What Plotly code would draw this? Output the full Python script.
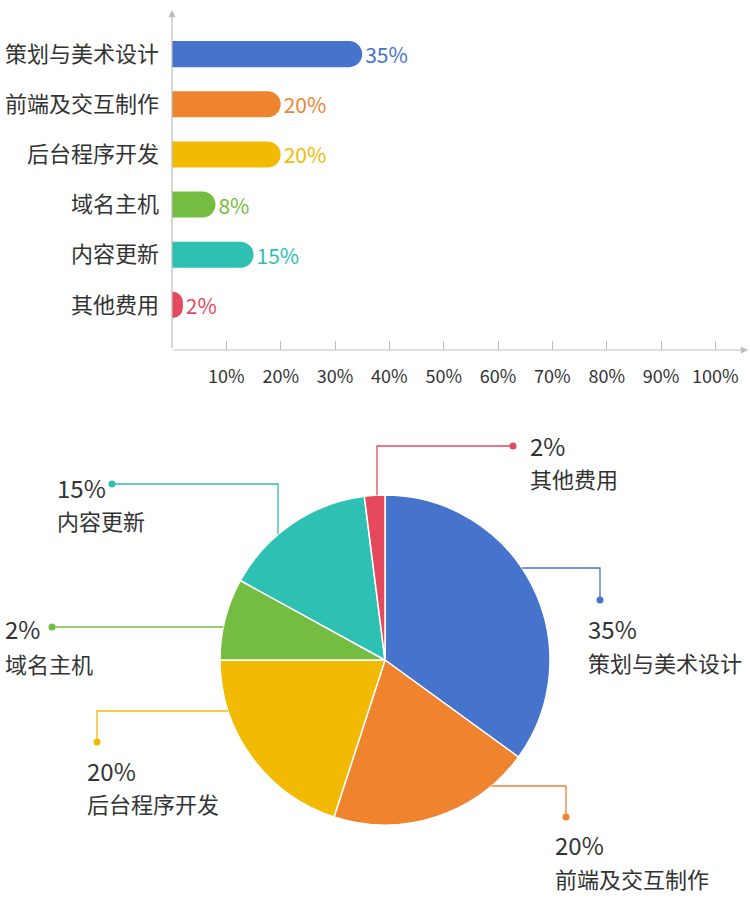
import math
import plotly.graph_objects as go

# data
categories = ["策划与美术设计", "前端及交互制作", "后台程序开发", "域名主机", "内容更新", "其他费用"]
values = [35, 20, 20, 8, 15, 2]
colors = ["#4673CC", "#F0832E", "#F2BA02", "#74BD41", "#2EC0B2", "#E5495D"]
pie_pct_text = ["35%", "20%", "20%", "2%", "15%", "2%"]
tick_vals = [10, 20, 30, 40, 50, 60, 70, 80, 90, 100]
tick_text = [f"{v}%" for v in tick_vals]

W, H = 750, 902
FONT = "Noto Sans CJK SC"
TXT = "#333333"
AXC = "#BDBDBD"


def px(x, y):
    return x / W, 1 - y / H


fig = go.Figure()

# ---- bar chart (top) ----
fig.add_trace(go.Bar(
    x=values[::-1],
    y=categories[::-1],
    orientation="h",
    marker=dict(color=colors[::-1], cornerradius=13, line=dict(width=0)),
    width=0.52,
    text=[f"{v}%" for v in values[::-1]],
    textposition="outside",
    constraintext="none",
    textfont=dict(family=FONT, size=21, color=colors[::-1]),
    cliponaxis=False,
    showlegend=False,
))

fig.update_xaxes(
    domain=[172 / W, 748 / W], range=[0, 106],
    tickvals=tick_vals, ticktext=tick_text,
    ticks="inside", ticklen=9, tickcolor=AXC, tickwidth=1,
    ticklabelstandoff=14,
    tickfont=dict(family=FONT, size=18, color=TXT),
    showgrid=False, zeroline=False, showline=False, fixedrange=True,
)
fig.update_yaxes(
    domain=[1 - 350 / H, 1 - 10 / H], range=[-0.9, 5.88],
    type="category", ticks="", ticklabelstandoff=12,
    tickfont=dict(family=FONT, size=22, color=TXT),
    showgrid=False, zeroline=False, showline=False, fixedrange=True,
)

# axis lines with arrow heads
axis_arrows = [
    dict(x=1, y=0, ax=0, ay=0),   # x axis
    dict(x=0, y=1, ax=0, ay=0),   # y axis
]
for a in axis_arrows:
    fig.add_annotation(
        xref="x domain", yref="y domain", axref="x domain", ayref="y domain",
        x=a["x"], y=a["y"], ax=a["ax"], ay=a["ay"], text="",
        showarrow=True, arrowhead=2, arrowsize=1.2, arrowwidth=1.2, arrowcolor=AXC,
    )

# ---- pie chart (bottom) ----
cx, cy, R = 385, 660, 165
fig.add_trace(go.Pie(
    values=values, labels=categories,
    marker=dict(colors=colors, line=dict(color="white", width=1.5)),
    sort=False, direction="clockwise", rotation=0,
    textinfo="none", showlegend=False,
    domain=dict(x=[(cx - R) / W, (cx + R) / W], y=[1 - (cy + R) / H, 1 - (cy - R) / H]),
))

# leader-line layout per slice (pixels): kind, line level, dot, label left x, label rows
leaders = [
    dict(kind="hv", level=568, dot=(600, 600), lx=586, ly=(628, 662)),
    dict(kind="hv", level=786, dot=(566, 817), lx=553, ly=(844, 878)),
    dict(kind="hv", level=711, dot=(97, 742), lx=85, ly=(770, 803)),
    dict(kind="hv", level=627, dot=(52, 627), lx=3, ly=(628, 663)),
    dict(kind="vh", level=278, dot=(112, 484), lx=55, ly=(487, 520)),
    dict(kind="vh", level=377, dot=(513, 446), lx=528, ly=(446, 478)),
]

for i, L in enumerate(leaders):
    dx_, dy_ = L["dot"]
    if L["kind"] == "hv":
        yl = L["level"]
        side = 1 if dx_ > cx else -1
        sx = cx + side * math.sqrt(R ** 2 - (yl - cy) ** 2)
        pts = [(sx, yl), (dx_, yl), (dx_, dy_)]
    else:
        xl = L["level"]
        sy = cy - math.sqrt(R ** 2 - (xl - cx) ** 2)
        pts = [(xl, sy), (xl, dy_), (dx_, dy_)]
    path = ""
    for j, (x, y) in enumerate(pts):
        px_, py_ = px(x, y)
        path += ("M" if j == 0 else "L") + f"{px_},{py_} "
    fig.add_shape(type="path", path=path, xref="paper", yref="paper",
                  line=dict(color=colors[i], width=1.3))
    ddx, ddy = px(dx_, dy_)
    fig.add_shape(type="circle", xref="paper", yref="paper",
                  xsizemode="pixel", ysizemode="pixel", xanchor=ddx, yanchor=ddy,
                  x0=-3.5, x1=3.5, y0=-3.5, y1=3.5,
                  fillcolor=colors[i], line=dict(width=0))
    tx, ty1 = px(L["lx"], L["ly"][0])
    _, ty2 = px(L["lx"], L["ly"][1])
    fig.add_annotation(xref="paper", yref="paper", x=tx, y=ty1, xanchor="left", yanchor="middle",
                       text=pie_pct_text[i], showarrow=False,
                       font=dict(family=FONT, size=24, color=TXT))
    fig.add_annotation(xref="paper", yref="paper", x=tx, y=ty2, xanchor="left", yanchor="middle",
                       text=categories[i], showarrow=False,
                       font=dict(family=FONT, size=22, color=TXT))

fig.update_layout(
    width=W, height=H,
    margin=dict(l=0, r=0, t=0, b=0),
    paper_bgcolor="white", plot_bgcolor="white",
)

# page body has a default 8px margin; drop it so the figure sits at the window origin
fig.write_html("out.html", config={"displayModeBar": False},
               post_script="document.body.style.margin='0';")
print("saved out.html")
